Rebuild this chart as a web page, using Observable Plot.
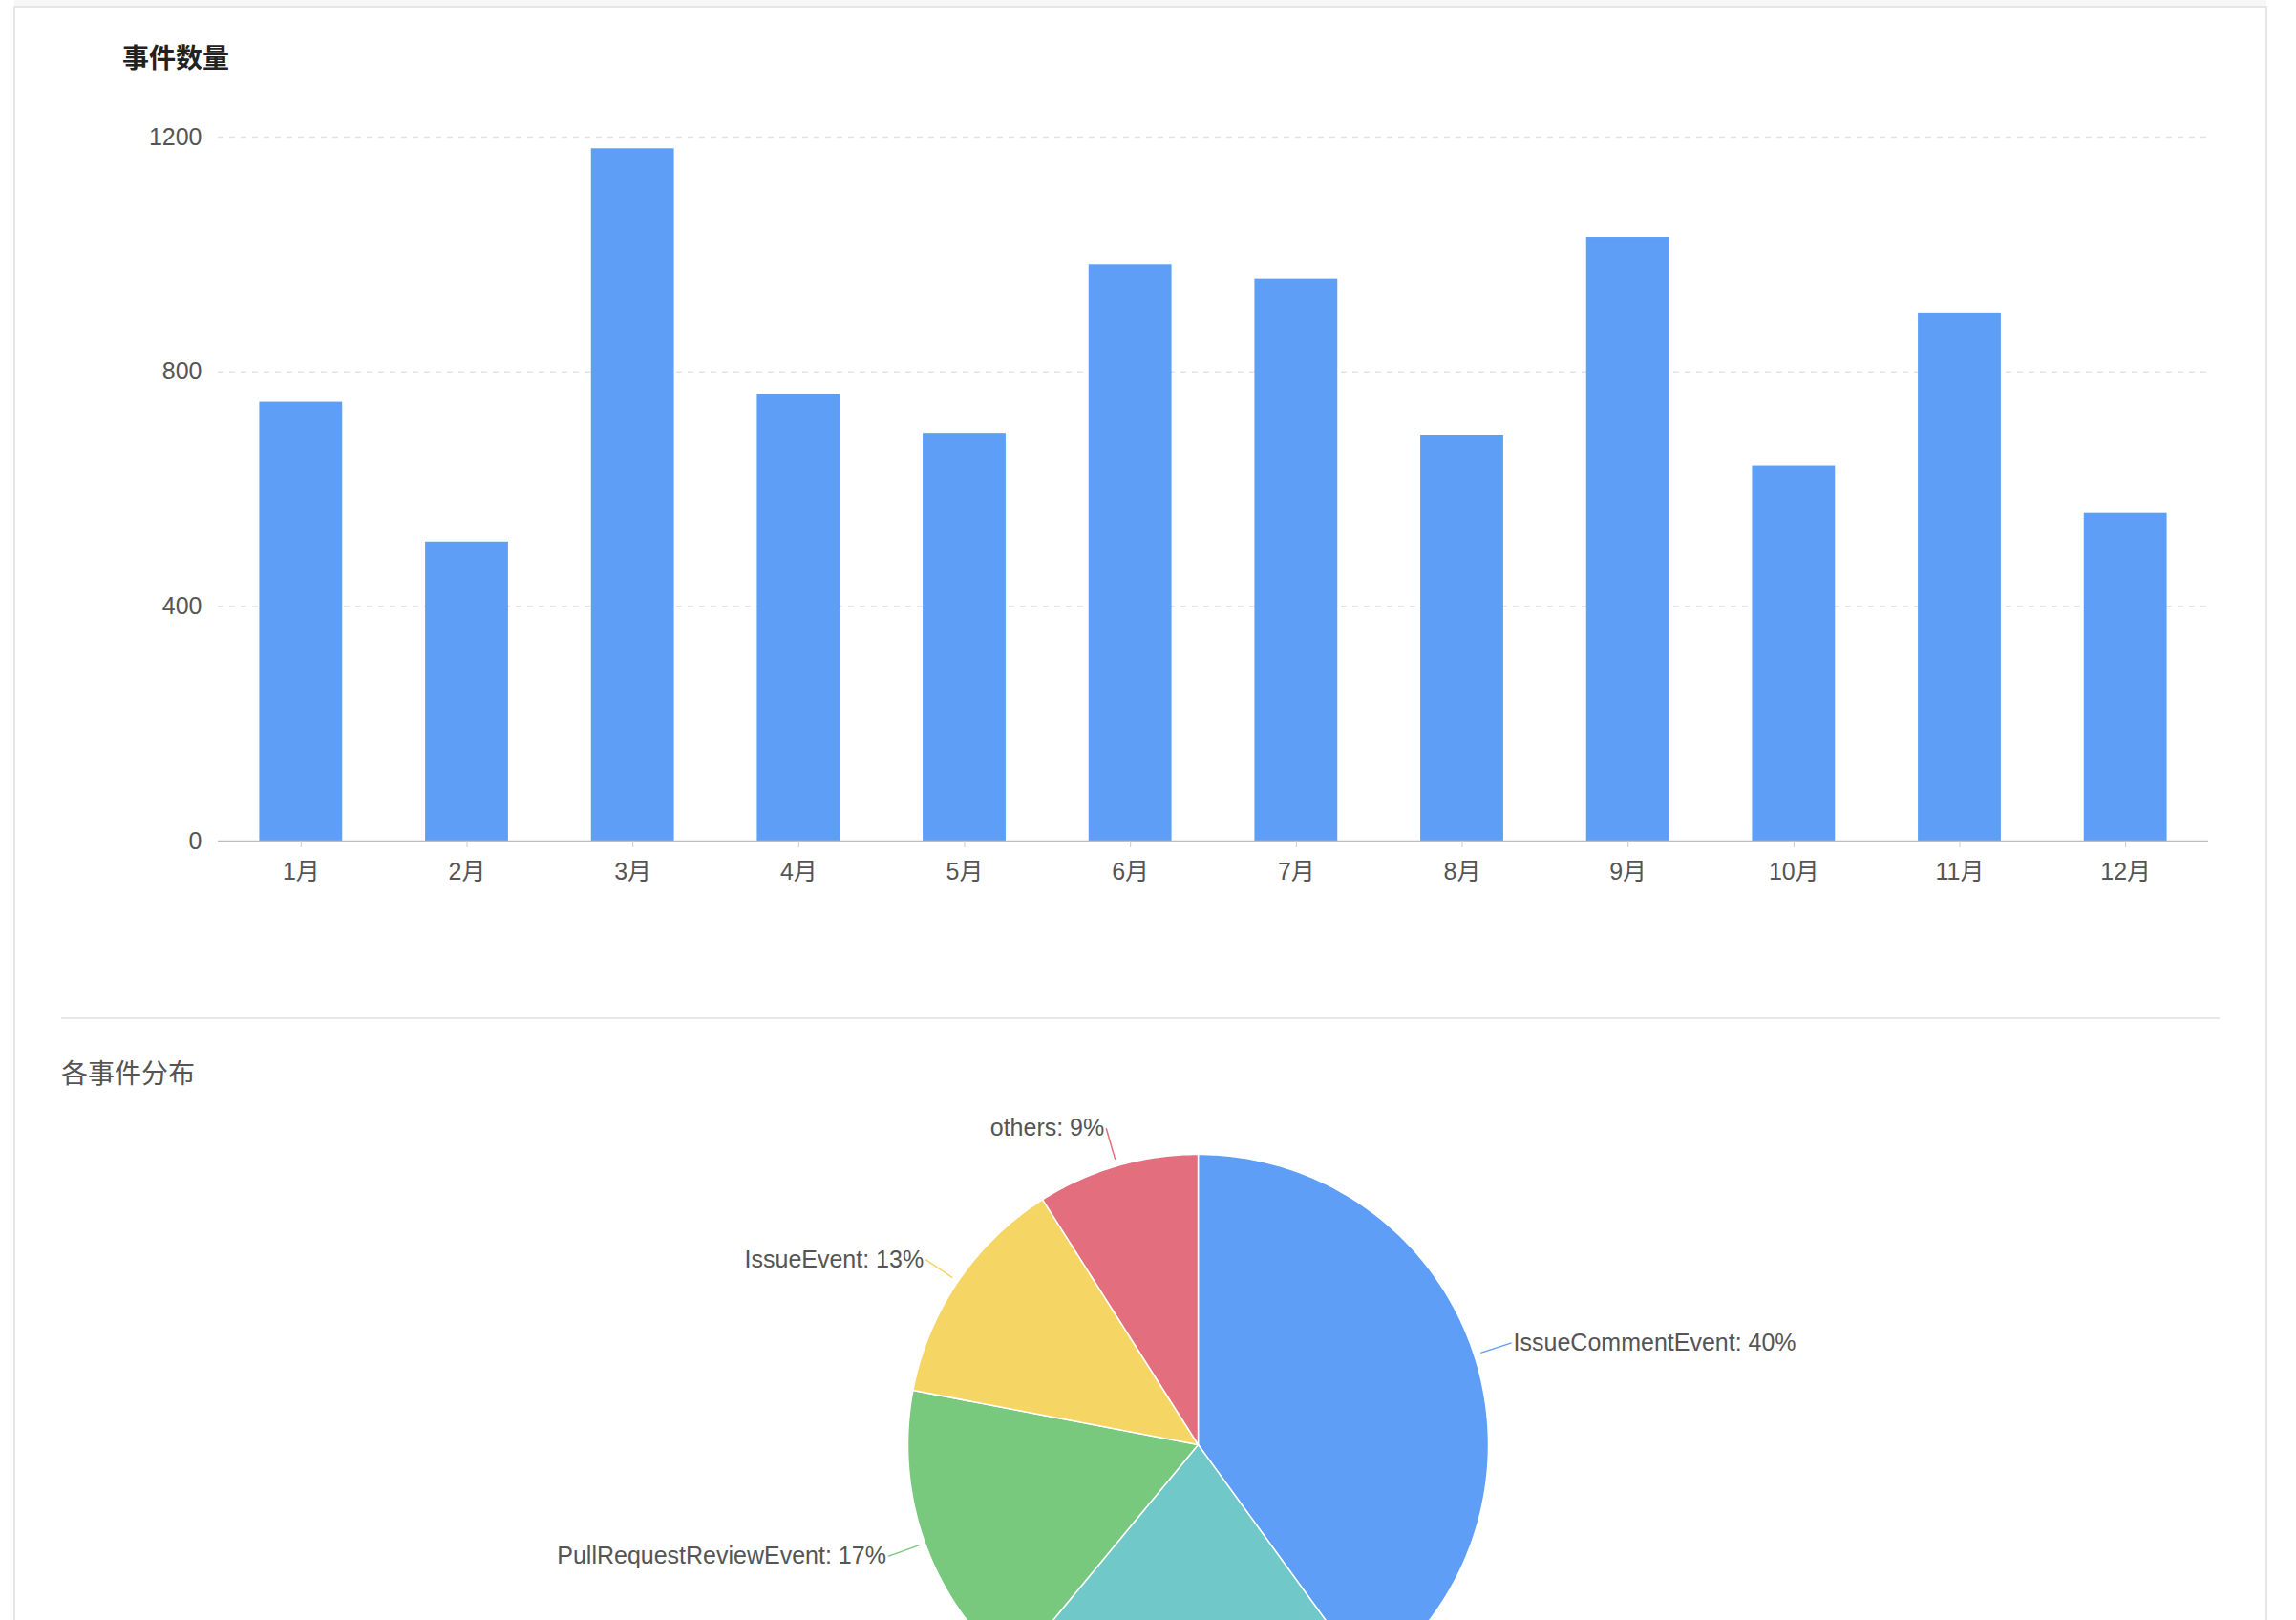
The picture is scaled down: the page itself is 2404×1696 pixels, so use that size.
<!DOCTYPE html>
<html>
<head>
<meta charset="utf-8">
<script src="https://cdn.jsdelivr.net/npm/d3@7"></script>
<script src="https://cdn.jsdelivr.net/npm/@observablehq/plot@0.6"></script>
<style>
html, body { margin: 0; padding: 0; overflow: hidden; background: #fff; width: 2404px; height: 1696px; }
body { position: relative; font-family: "Liberation Sans", "Noto Sans CJK SC", sans-serif; }
.abs { position: absolute; }
#topstrip { left: 15px; top: 0; width: 2358px; height: 6px; background: #f7f7f7; border-bottom: 2px solid #e6e6e6; }
#card { left: 14px; top: 6px; width: 2356px; height: 1800px; border-left: 2px solid #e6e6e6; border-right: 2px solid #e6e6e6; }
#title1 { left: 128px; top: 45px; font-size: 28px; line-height: 28px; font-weight: bold; color: #222; font-family: "Noto Sans CJK SC", sans-serif; }
#divider { left: 64px; top: 1065px; width: 2260px; height: 2px; background: #e8e8e8; }
#title2 { left: 64px; top: 1108px; font-size: 28px; line-height: 28px; color: #555; font-family: "Noto Sans CJK SC", sans-serif; }
#bars { left: 0; top: 120px; }
#pie { left: 0; top: 1140px; }
</style>
</head>
<body>
<div id="topstrip" class="abs"></div>
<div id="card" class="abs"></div>
<div id="title1" class="abs">事件数量</div>
<div id="bars" class="abs"></div>
<div id="divider" class="abs"></div>
<div id="title2" class="abs">各事件分布</div>
<div id="pie" class="abs"></div>
<script>
// ---- data ----
const months = ["1月", "2月", "3月", "4月", "5月", "6月", "7月", "8月", "9月", "10月", "11月", "12月"];
const counts = [748, 510, 1180, 761, 695, 983, 958, 692, 1029, 639, 899, 559];
const yTicks = [0, 400, 800, 1200];

const eventNames = ["IssueCommentEvent", "PullRequestEvent", "PullRequestReviewEvent", "IssueEvent", "others"];
const eventShares = [40, 21, 17, 13, 9];
const eventColors = ["#5f9ef6", "#71c8c8", "#78c97e", "#f5d564", "#e26e7e"];

const barColor = "#5f9ef6";
const textColor = "#555555";
const fontFamily = "'Liberation Sans', 'Noto Sans CJK SC', sans-serif";

// ---- bar chart ----
const barTable = months.map((m, i) => ({month: m, count: counts[i]}));

const barChart = Plot.plot({
  width: 2404,
  height: 820,
  marginTop: 23,
  marginBottom: 60,
  marginLeft: 228,
  marginRight: 92,
  style: {fontFamily, fontSize: "25px", color: textColor, background: "transparent", overflow: "visible"},
  x: {domain: months, paddingInner: 0.5, paddingOuter: 0.25, round: false, label: null},
  y: {domain: [0, 1200], label: null},
  marks: [
    Plot.gridY(yTicks.filter(v => v > 0), {stroke: "#e3e3e3", strokeOpacity: 1, strokeDasharray: "6,6", strokeWidth: 1.5}),
    Plot.barY(barTable, {x: "month", y: "count", fill: barColor}),
    Plot.ruleY([0], {stroke: "#bdbdbd", strokeWidth: 1.5}),
    Plot.axisX({tickSize: 7, tickPadding: 16, stroke: "#cccccc", fill: textColor, fontSize: 25, label: null}),
    Plot.axisY(yTicks, {tickSize: 0, tickPadding: 17, tickFormat: d => String(d), fill: textColor, fontSize: 25, label: null})
  ]
});
document.getElementById("bars").appendChild(barChart);

// ---- pie chart ----
const pieTable = eventNames.map((n, i) => ({name: n, share: eventShares[i], color: eventColors[i]}));
const arcs = d3.pie().sort(null).value(d => d.share)(pieTable);
const R = 304;          // pie radius (px)
const lineIn = R + 7;   // leader line start
const lineOut = R + 41; // leader line end

function pt(a, r) { return {x: r * Math.sin(a), y: r * Math.cos(a)}; }

const sliceMarks = arcs.map(a => {
  const pts = [{x: 0, y: 0}];
  const n = Math.max(8, Math.ceil((a.endAngle - a.startAngle) / 0.01));
  for (let k = 0; k <= n; k++) {
    const ang = a.startAngle + (a.endAngle - a.startAngle) * k / n;
    pts.push(pt(ang, R));
  }
  pts.push({x: 0, y: 0});
  return Plot.line(pts, {x: "x", y: "y", fill: a.data.color, stroke: "#ffffff", strokeWidth: 1.5, curve: "linear"});
});

const labelRows = arcs.map(a => {
  const mid = (a.startAngle + a.endAngle) / 2;
  const p1 = pt(mid, lineIn), p2 = pt(mid, lineOut);
  const right = Math.sin(mid) >= 0;
  return {
    x1: p1.x, y1: p1.y, x2: p2.x, y2: p2.y,
    color: a.data.color,
    label: `${a.data.name}: ${a.data.share}%`,
    anchor: right ? "start" : "end"
  };
});

const pieChart = Plot.plot({
  width: 2404,
  height: 1000,
  margin: 0,
  style: {fontFamily, fontSize: "25px", color: textColor, background: "transparent", overflow: "visible"},
  x: {type: "linear", domain: [-1254, 1150], range: [0, 2404], axis: null},
  y: {type: "linear", domain: [-628, 372], range: [1000, 0], axis: null},
  marks: [
    ...sliceMarks,
    Plot.link(labelRows, {x1: "x1", y1: "y1", x2: "x2", y2: "y2", stroke: d => d.color, strokeWidth: 1.5}),
    Plot.text(labelRows.filter(d => d.anchor === "start"), {x: "x2", y: "y2", text: "label", textAnchor: "start", dx: 2, fill: textColor, fontSize: 25}),
    Plot.text(labelRows.filter(d => d.anchor === "end"), {x: "x2", y: "y2", text: "label", textAnchor: "end", dx: -2, fill: textColor, fontSize: 25})
  ]
});
document.getElementById("pie").appendChild(pieChart);
</script>
</body>
</html>
